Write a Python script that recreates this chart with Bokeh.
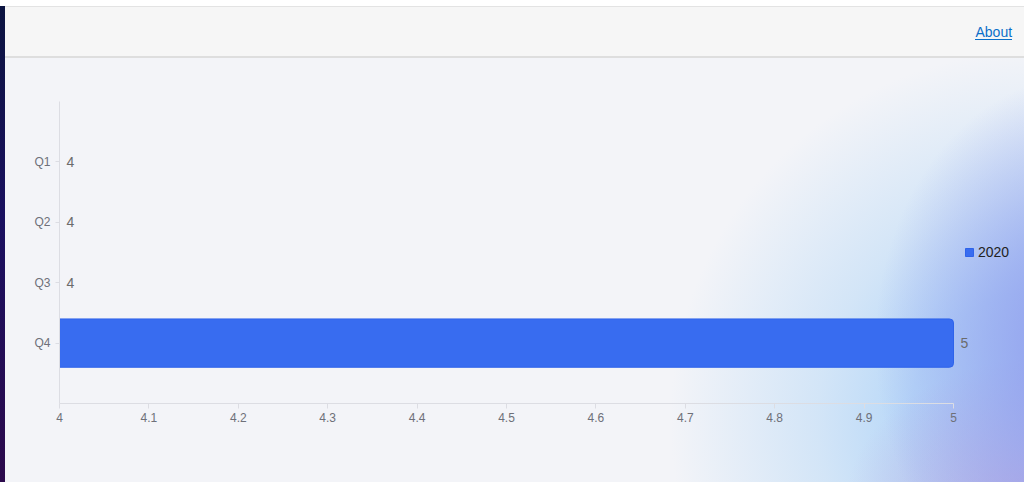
from bokeh.plotting import figure
from bokeh.models import (Range1d, FactorRange, FixedTicker, NumeralTickFormatter,
                          Legend, LegendItem, Label, ColumnDataSource, GlobalInlineStyleSheet)
from bokeh.embed import file_html
from bokeh.resources import INLINE
from bokeh.core.properties import value

# ---- data ----
categories = ["Q1", "Q2", "Q3", "Q4"]
values_2020 = [4, 4, 4, 5]
series_name = "2020"
x_ticks = [4, 4.1, 4.2, 4.3, 4.4, 4.5, 4.6, 4.7, 4.8, 4.9, 5]
x_start, x_end = 4, 5
link_text = "About"

# ---- layout (pixels) ----
W, H = 1024, 482
FRAME_LEFT, FRAME_TOP, FRAME_BOTTOM = 59, 101, 403
AXIS_END_PX = 953
px_per_unit = (AXIS_END_PX - FRAME_LEFT) / (x_end - x_start)
x_view_end = x_end + (W - AXIS_END_PX) / px_per_unit

FONT = "Liberation Sans"
BAR = "#386cf0"
AXIS = "#dcdde3"
LABEL = "#6e7079"

src = ColumnDataSource(dict(
    y=categories,
    right=values_2020,
    left=[x_start] * len(categories),
    label=[str(v) for v in values_2020],
))

p = figure(width=W, height=H,
           x_range=Range1d(x_start, x_view_end),
           y_range=FactorRange(factors=list(reversed(categories)),
                               range_padding=0.5, range_padding_units="absolute"),
           output_backend="svg", toolbar_location=None,
           min_border_left=FRAME_LEFT, min_border_right=0,
           min_border_top=FRAME_TOP, min_border_bottom=H - FRAME_BOTTOM)

p.background_fill_color = None
p.border_fill_color = None
p.outline_line_color = None
p.grid.visible = False

r = p.hbar(y="y", left="left", right="right", height=0.8, source=src,
           fill_color=BAR, line_color="#2e63ea", line_width=1,
           border_radius=(0, 4, 4, 0))

p.text(x="right", y="y", text="label", source=src, x_offset=7,
       text_baseline="middle", text_align="left", text_color="#6b6b6b",
       text_font_size="14px", text_font=value(FONT))

for ax in (p.xaxis[0], p.yaxis[0]):
    ax.axis_line_color = AXIS
    ax.major_tick_line_color = AXIS
    ax.minor_tick_line_color = None
    ax.major_tick_in = 0
    ax.major_label_text_color = LABEL
    ax.major_label_text_font_size = "12px"
    ax.major_label_text_font = FONT

p.xaxis.ticker = FixedTicker(ticks=x_ticks)
p.xaxis.formatter = NumeralTickFormatter(format="0.[0]")
p.xaxis.bounds = (x_start, x_end)
p.xaxis.major_tick_out = 5
p.xaxis.major_label_standoff = 4
p.yaxis.major_tick_out = 4
p.yaxis.major_label_standoff = 5

legend = Legend(items=[LegendItem(label=series_name, renderers=[r])],
                location=(905, 143), padding=0, margin=0, spacing=0,
                glyph_width=10, glyph_height=10, label_standoff=4,
                label_text_font_size="14px", label_text_font=FONT,
                label_text_color="#222222", label_height=14,
                border_line_color=None, background_fill_alpha=0)
p.add_layout(legend, "center")

# "About" link in the page header, placed in the top border panel
about_x = x_start + (975 - FRAME_LEFT) / px_per_unit
about_y = 4.5 + (FRAME_TOP - 31) / ((FRAME_BOTTOM - FRAME_TOP) / 5)
p.add_layout(Label(x=about_x, y=about_y, text=link_text, text_font=FONT,
                   text_font_size="14px", text_color="#0b6fc9",
                   text_baseline="middle", text_align="left"), "above")

css = """
html, body { margin: 0; padding: 0; overflow: hidden; }
html {
  min-height: 100%;
  background:
    linear-gradient(#0b6fc9, #0b6fc9) 975px 39px / 37px 1px no-repeat,
    linear-gradient(to bottom, #0c1440 0%, #1a1060 45%, #2c0a4c 100%) 0px 6px / 5px 476px no-repeat,
    linear-gradient(to bottom, #ffffff 0px, #ffffff 6px, #e3e3e3 6px, #e3e3e3 7px,
                    #f6f6f6 7px, #f6f6f6 56px, #dedede 56px, #dedede 58px,
                    rgba(243,244,248,0) 58px) 0px 0px / 1024px 58px no-repeat,
    radial-gradient(ellipse 210px 270px at 1085px 345px,
                    rgba(140,150,236,0.95) 0%, rgba(145,160,238,0.65) 45%,
                    rgba(160,190,242,0) 100%) 0px 0px / 1024px 482px no-repeat,
    radial-gradient(ellipse 210px 150px at 1055px 505px,
                    rgba(188,164,222,0.95) 0%, rgba(188,164,222,0) 100%) 0px 0px / 1024px 482px no-repeat,
    radial-gradient(circle 370px at 1040px 420px,
                    rgba(176,212,248,1) 0%, rgba(184,216,248,1) 35%,
                    rgba(200,224,247,0.75) 60%, rgba(243,244,248,0) 100%) 0px 0px / 1024px 482px no-repeat,
    #f3f4f8;
}
"""
p.stylesheets = [GlobalInlineStyleSheet(css=css)]

open("out.html", "w").write(file_html(p, INLINE))
